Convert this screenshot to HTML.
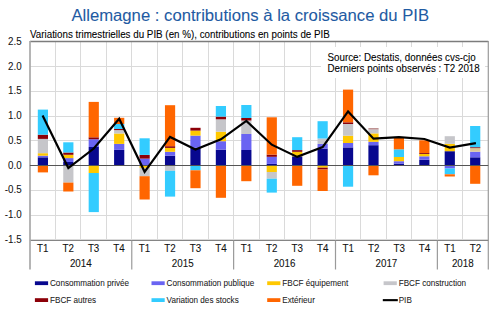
<!DOCTYPE html>
<html><head><meta charset="utf-8"><style>
html,body{margin:0;padding:0;background:#fff;}
body{width:500px;height:313px;overflow:hidden;}
svg{display:block;font-family:"Liberation Sans", sans-serif;}
</style></head><body>
<svg width="500" height="313" viewBox="0 0 500 313">
<rect width="500" height="313" fill="#fff"/>
<line x1="55.5" y1="41.7" x2="55.5" y2="240" stroke="#dadada" stroke-width="1"/>
<line x1="80.5" y1="41.7" x2="80.5" y2="240" stroke="#dadada" stroke-width="1"/>
<line x1="106.5" y1="41.7" x2="106.5" y2="240" stroke="#dadada" stroke-width="1"/>
<line x1="131.5" y1="41.7" x2="131.5" y2="240" stroke="#dadada" stroke-width="1"/>
<line x1="157.5" y1="41.7" x2="157.5" y2="240" stroke="#dadada" stroke-width="1"/>
<line x1="182.5" y1="41.7" x2="182.5" y2="240" stroke="#dadada" stroke-width="1"/>
<line x1="208.5" y1="41.7" x2="208.5" y2="240" stroke="#dadada" stroke-width="1"/>
<line x1="233.5" y1="41.7" x2="233.5" y2="240" stroke="#dadada" stroke-width="1"/>
<line x1="259.5" y1="41.7" x2="259.5" y2="240" stroke="#dadada" stroke-width="1"/>
<line x1="284.5" y1="41.7" x2="284.5" y2="240" stroke="#dadada" stroke-width="1"/>
<line x1="310.5" y1="41.7" x2="310.5" y2="240" stroke="#dadada" stroke-width="1"/>
<line x1="335.5" y1="41.7" x2="335.5" y2="240" stroke="#dadada" stroke-width="1"/>
<line x1="360.5" y1="41.7" x2="360.5" y2="240" stroke="#dadada" stroke-width="1"/>
<line x1="386.5" y1="41.7" x2="386.5" y2="240" stroke="#dadada" stroke-width="1"/>
<line x1="411.5" y1="41.7" x2="411.5" y2="240" stroke="#dadada" stroke-width="1"/>
<line x1="437.5" y1="41.7" x2="437.5" y2="240" stroke="#dadada" stroke-width="1"/>
<line x1="462.5" y1="41.7" x2="462.5" y2="240" stroke="#dadada" stroke-width="1"/>
<line x1="29.9" y1="41.5" x2="488.3" y2="41.5" stroke="#dadada" stroke-width="1"/>
<line x1="29.9" y1="66.5" x2="488.3" y2="66.5" stroke="#dadada" stroke-width="1"/>
<line x1="29.9" y1="91.5" x2="488.3" y2="91.5" stroke="#dadada" stroke-width="1"/>
<line x1="29.9" y1="116.5" x2="488.3" y2="116.5" stroke="#dadada" stroke-width="1"/>
<line x1="29.9" y1="140.5" x2="488.3" y2="140.5" stroke="#dadada" stroke-width="1"/>
<line x1="29.9" y1="190.5" x2="488.3" y2="190.5" stroke="#dadada" stroke-width="1"/>
<line x1="29.9" y1="215.5" x2="488.3" y2="215.5" stroke="#dadada" stroke-width="1"/>
<line x1="29.9" y1="239.5" x2="488.3" y2="239.5" stroke="#dadada" stroke-width="1"/>
<rect x="321" y="47" width="164" height="31" fill="#ffffff"/>
<rect x="37.8" y="157.3" width="10.2" height="8.3" fill="#08088f"/>
<rect x="37.8" y="155.7" width="10.2" height="1.6" fill="#6a64f2"/>
<rect x="37.8" y="153.2" width="10.2" height="2.5" fill="#ffc800"/>
<rect x="37.8" y="138.9" width="10.2" height="14.3" fill="#c6c6ca"/>
<rect x="37.8" y="134.7" width="10.2" height="4.2" fill="#8c0008"/>
<rect x="37.8" y="109.6" width="10.2" height="25.1" fill="#33ccff"/>
<rect x="37.8" y="165.6" width="10.2" height="6.8" fill="#ff6600"/>
<rect x="63.23" y="162" width="10.2" height="3.6" fill="#08088f"/>
<rect x="63.23" y="158.1" width="10.2" height="3.9" fill="#6a64f2"/>
<rect x="63.23" y="154.8" width="10.2" height="3.3" fill="#ffc800"/>
<rect x="63.23" y="152.5" width="10.2" height="2.3" fill="#8c0008"/>
<rect x="63.23" y="142.3" width="10.2" height="10.2" fill="#33ccff"/>
<rect x="63.23" y="165.6" width="10.2" height="17" fill="#c6c6ca"/>
<rect x="63.23" y="182.6" width="10.2" height="8.9" fill="#ff6600"/>
<rect x="88.66" y="147" width="10.2" height="18.6" fill="#08088f"/>
<rect x="88.66" y="139.2" width="10.2" height="7.8" fill="#6a64f2"/>
<rect x="88.66" y="137.3" width="10.2" height="1.9" fill="#8c0008"/>
<rect x="88.66" y="101.9" width="10.2" height="35.4" fill="#ff6600"/>
<rect x="88.66" y="165.6" width="10.2" height="7.4" fill="#ffc800"/>
<rect x="88.66" y="173" width="10.2" height="39.1" fill="#33ccff"/>
<rect x="114.09" y="149.9" width="10.2" height="15.7" fill="#08088f"/>
<rect x="114.09" y="143.9" width="10.2" height="6" fill="#6a64f2"/>
<rect x="114.09" y="133.5" width="10.2" height="10.4" fill="#ffc800"/>
<rect x="114.09" y="130.1" width="10.2" height="3.4" fill="#c6c6ca"/>
<rect x="114.09" y="129" width="10.2" height="1.1" fill="#8c0008"/>
<rect x="114.09" y="124" width="10.2" height="5" fill="#33ccff"/>
<rect x="114.09" y="117.8" width="10.2" height="6.2" fill="#ff6600"/>
<rect x="139.52" y="158.6" width="10.2" height="7" fill="#6a64f2"/>
<rect x="139.52" y="154.9" width="10.2" height="3.7" fill="#8c0008"/>
<rect x="139.52" y="138.3" width="10.2" height="16.6" fill="#33ccff"/>
<rect x="139.52" y="165.6" width="10.2" height="2.3" fill="#ffc800"/>
<rect x="139.52" y="167.9" width="10.2" height="8.3" fill="#c6c6ca"/>
<rect x="139.52" y="176.2" width="10.2" height="23.3" fill="#ff6600"/>
<rect x="164.95" y="155.7" width="10.2" height="9.9" fill="#08088f"/>
<rect x="164.95" y="151.8" width="10.2" height="3.9" fill="#6a64f2"/>
<rect x="164.95" y="147.9" width="10.2" height="3.9" fill="#ffc800"/>
<rect x="164.95" y="146.2" width="10.2" height="1.7" fill="#8c0008"/>
<rect x="164.95" y="105.2" width="10.2" height="41" fill="#ff6600"/>
<rect x="164.95" y="165.6" width="10.2" height="5.2" fill="#c6c6ca"/>
<rect x="164.95" y="170.8" width="10.2" height="25.8" fill="#33ccff"/>
<rect x="190.38" y="147.8" width="10.2" height="17.8" fill="#08088f"/>
<rect x="190.38" y="135.6" width="10.2" height="12.2" fill="#6a64f2"/>
<rect x="190.38" y="130.6" width="10.2" height="5" fill="#ffc800"/>
<rect x="190.38" y="127.8" width="10.2" height="2.8" fill="#8c0008"/>
<rect x="190.38" y="165.6" width="10.2" height="4.7" fill="#33ccff"/>
<rect x="190.38" y="170.3" width="10.2" height="17.9" fill="#ff6600"/>
<rect x="215.81" y="149.6" width="10.2" height="16" fill="#08088f"/>
<rect x="215.81" y="141.2" width="10.2" height="8.4" fill="#6a64f2"/>
<rect x="215.81" y="131.7" width="10.2" height="9.5" fill="#ffc800"/>
<rect x="215.81" y="119.3" width="10.2" height="12.4" fill="#c6c6ca"/>
<rect x="215.81" y="116.6" width="10.2" height="2.7" fill="#8c0008"/>
<rect x="215.81" y="106" width="10.2" height="10.6" fill="#33ccff"/>
<rect x="215.81" y="165.6" width="10.2" height="32.2" fill="#ff6600"/>
<rect x="241.24" y="150" width="10.2" height="15.6" fill="#08088f"/>
<rect x="241.24" y="134" width="10.2" height="16" fill="#6a64f2"/>
<rect x="241.24" y="120.5" width="10.2" height="13.5" fill="#c6c6ca"/>
<rect x="241.24" y="118" width="10.2" height="2.5" fill="#8c0008"/>
<rect x="241.24" y="105" width="10.2" height="13" fill="#33ccff"/>
<rect x="241.24" y="165.6" width="10.2" height="15.6" fill="#ff6600"/>
<rect x="266.67" y="163.9" width="10.2" height="1.7" fill="#08088f"/>
<rect x="266.67" y="156.8" width="10.2" height="7.1" fill="#6a64f2"/>
<rect x="266.67" y="154.6" width="10.2" height="2.2" fill="#8c0008"/>
<rect x="266.67" y="117.3" width="10.2" height="37.3" fill="#ff6600"/>
<rect x="266.67" y="165.6" width="10.2" height="6.4" fill="#ffc800"/>
<rect x="266.67" y="172" width="10.2" height="6.7" fill="#c6c6ca"/>
<rect x="266.67" y="178.7" width="10.2" height="13.9" fill="#33ccff"/>
<rect x="292.1" y="156.3" width="10.2" height="9.3" fill="#08088f"/>
<rect x="292.1" y="151.8" width="10.2" height="4.5" fill="#ffc800"/>
<rect x="292.1" y="150.1" width="10.2" height="1.7" fill="#8c0008"/>
<rect x="292.1" y="137.2" width="10.2" height="12.9" fill="#33ccff"/>
<rect x="292.1" y="165.6" width="10.2" height="20.2" fill="#ff6600"/>
<rect x="317.53" y="148.6" width="10.2" height="17" fill="#08088f"/>
<rect x="317.53" y="143.9" width="10.2" height="4.7" fill="#6a64f2"/>
<rect x="317.53" y="138.5" width="10.2" height="5.4" fill="#c6c6ca"/>
<rect x="317.53" y="121.2" width="10.2" height="17.3" fill="#33ccff"/>
<rect x="317.53" y="165.6" width="10.2" height="2.1" fill="#ffc800"/>
<rect x="317.53" y="167.7" width="10.2" height="1.8" fill="#8c0008"/>
<rect x="317.53" y="169.5" width="10.2" height="21.5" fill="#ff6600"/>
<rect x="342.96" y="147.4" width="10.2" height="18.2" fill="#08088f"/>
<rect x="342.96" y="143" width="10.2" height="4.4" fill="#6a64f2"/>
<rect x="342.96" y="135.7" width="10.2" height="7.3" fill="#ffc800"/>
<rect x="342.96" y="124" width="10.2" height="11.7" fill="#c6c6ca"/>
<rect x="342.96" y="122.3" width="10.2" height="1.7" fill="#8c0008"/>
<rect x="342.96" y="89.6" width="10.2" height="32.7" fill="#ff6600"/>
<rect x="342.96" y="165.6" width="10.2" height="21.1" fill="#33ccff"/>
<rect x="368.39" y="145.2" width="10.2" height="20.4" fill="#08088f"/>
<rect x="368.39" y="141.8" width="10.2" height="3.4" fill="#6a64f2"/>
<rect x="368.39" y="133.4" width="10.2" height="8.4" fill="#ffc800"/>
<rect x="368.39" y="129.5" width="10.2" height="3.9" fill="#c6c6ca"/>
<rect x="368.39" y="128.1" width="10.2" height="1.4" fill="#b88888"/>
<rect x="368.39" y="165.6" width="10.2" height="9.7" fill="#ff6600"/>
<rect x="393.82" y="163.6" width="10.2" height="2" fill="#08088f"/>
<rect x="393.82" y="161.2" width="10.2" height="2.4" fill="#6a64f2"/>
<rect x="393.82" y="157" width="10.2" height="4.2" fill="#ffc800"/>
<rect x="393.82" y="149.3" width="10.2" height="7.7" fill="#33ccff"/>
<rect x="393.82" y="137.9" width="10.2" height="11.4" fill="#ff6600"/>
<rect x="419.25" y="159.8" width="10.2" height="5.8" fill="#08088f"/>
<rect x="419.25" y="156.3" width="10.2" height="3.5" fill="#6a64f2"/>
<rect x="419.25" y="153.9" width="10.2" height="2.4" fill="#ffc800"/>
<rect x="419.25" y="153" width="10.2" height="0.9" fill="#8c0008"/>
<rect x="419.25" y="140.3" width="10.2" height="12.7" fill="#ff6600"/>
<rect x="444.68" y="151.2" width="10.2" height="14.4" fill="#08088f"/>
<rect x="444.68" y="143.8" width="10.2" height="7.4" fill="#ffc800"/>
<rect x="444.68" y="136.2" width="10.2" height="7.6" fill="#c6c6ca"/>
<rect x="444.68" y="165.6" width="10.2" height="2.9" fill="#6a64f2"/>
<rect x="444.68" y="168.5" width="10.2" height="5.8" fill="#33ccff"/>
<rect x="444.68" y="174.3" width="10.2" height="2.2" fill="#ff6600"/>
<rect x="470.11" y="157.3" width="10.2" height="8.3" fill="#08088f"/>
<rect x="470.11" y="151.7" width="10.2" height="5.6" fill="#6a64f2"/>
<rect x="470.11" y="148.1" width="10.2" height="3.6" fill="#dcc89a"/>
<rect x="470.11" y="147.2" width="10.2" height="0.9" fill="#8c0008"/>
<rect x="470.11" y="126" width="10.2" height="21.2" fill="#33ccff"/>
<rect x="470.11" y="165.6" width="10.2" height="18.2" fill="#ff6600"/>
<line x1="29.9" y1="41.5" x2="488.3" y2="41.5" stroke="#7c7c7c" stroke-width="1.3"/>
<line x1="488.3" y1="41" x2="488.3" y2="269.5" stroke="#9a9a9a" stroke-width="1.2"/>
<line x1="29.9" y1="240.5" x2="488.3" y2="240.5" stroke="#858585" stroke-width="1.1"/>
<line x1="30" y1="41" x2="30" y2="269.5" stroke="#a8a8a8" stroke-width="1.7"/>
<line x1="131.77" y1="240.5" x2="131.77" y2="269.5" stroke="#9a9a9a" stroke-width="1.2"/>
<line x1="233.63" y1="240.5" x2="233.63" y2="269.5" stroke="#9a9a9a" stroke-width="1.2"/>
<line x1="335.5" y1="240.5" x2="335.5" y2="269.5" stroke="#9a9a9a" stroke-width="1.2"/>
<line x1="437.37" y1="240.5" x2="437.37" y2="269.5" stroke="#9a9a9a" stroke-width="1.2"/>
<line x1="29.9" y1="165.5" x2="488.3" y2="165.5" stroke="#555555" stroke-width="1"/>
<polyline points="42.59,115.57 68.33,168 93.76,148.5 119.19,118.7 144.62,171.8 170.05,136.9 195.48,149.6 220.91,139.3 246.34,120.9 271.77,144.7 297.2,156.9 322.63,147.1 348.06,111.4 373.49,138.7 398.92,137.2 424.35,139 449.78,147.6 475.9,143.08" fill="none" stroke="#000000" stroke-width="2.2" stroke-linejoin="miter"/>
<rect x="34.9" y="281.3" width="13.2" height="3.8" fill="#08088f"/>
<rect x="151.5" y="281.3" width="13.2" height="3.8" fill="#6a64f2"/>
<rect x="267.2" y="281.3" width="13.2" height="3.8" fill="#ffc800"/>
<rect x="383.6" y="281.3" width="13.2" height="3.8" fill="#c6c6ca"/>
<rect x="34.9" y="298.2" width="13.2" height="3.8" fill="#8c0008"/>
<rect x="151.5" y="298.2" width="13.2" height="3.8" fill="#33ccff"/>
<rect x="267.2" y="298.2" width="13.2" height="3.8" fill="#ff6600"/>
<rect x="382.8" y="299.1" width="15" height="2.1" fill="#000000"/>
<text x="71.4" y="20.8" font-size="16.68" text-anchor="start" fill="#1f5ba3" stroke="#1f5ba3" stroke-width="0.08">Allemagne : contributions à la croissance du PIB</text>
<text x="30" y="38.2" font-size="9.8" text-anchor="start" fill="#000" stroke="#000" stroke-width="0.08" transform="matrix(1 0 0 1.1 0 -3.82)">Variations trimestrielles du PIB (en %), contributions en points de PIB</text>
<text x="327.5" y="61.3" font-size="9.8" text-anchor="start" fill="#000" stroke="#000" stroke-width="0.08" transform="matrix(1 0 0 1.1 0 -6.13)">Source: Destatis, données cvs-cjo</text>
<text x="327.5" y="72.1" font-size="9.8" text-anchor="start" fill="#000" stroke="#000" stroke-width="0.08" transform="matrix(1 0 0 1.1 0 -7.21)">Derniers points observés : T2 2018</text>
<text x="21.7" y="44.75" font-size="9.8" text-anchor="end" fill="#111" stroke="#111" stroke-width="0.05" transform="matrix(1 0 0 1.1 0 -4.48)">2.5</text>
<text x="21.7" y="69.54" font-size="9.8" text-anchor="end" fill="#111" stroke="#111" stroke-width="0.05" transform="matrix(1 0 0 1.1 0 -6.95)">2.0</text>
<text x="21.7" y="94.33" font-size="9.8" text-anchor="end" fill="#111" stroke="#111" stroke-width="0.05" transform="matrix(1 0 0 1.1 0 -9.43)">1.5</text>
<text x="21.7" y="119.12" font-size="9.8" text-anchor="end" fill="#111" stroke="#111" stroke-width="0.05" transform="matrix(1 0 0 1.1 0 -11.91)">1.0</text>
<text x="21.7" y="143.91" font-size="9.8" text-anchor="end" fill="#111" stroke="#111" stroke-width="0.05" transform="matrix(1 0 0 1.1 0 -14.39)">0.5</text>
<text x="21.7" y="168.7" font-size="9.8" text-anchor="end" fill="#111" stroke="#111" stroke-width="0.05" transform="matrix(1 0 0 1.1 0 -16.87)">0.0</text>
<text x="21.7" y="193.49" font-size="9.8" text-anchor="end" fill="#111" stroke="#111" stroke-width="0.05" transform="matrix(1 0 0 1.1 0 -19.35)">-0.5</text>
<text x="21.7" y="218.28" font-size="9.8" text-anchor="end" fill="#111" stroke="#111" stroke-width="0.05" transform="matrix(1 0 0 1.1 0 -21.83)">-1.0</text>
<text x="21.7" y="243.07" font-size="9.8" text-anchor="end" fill="#111" stroke="#111" stroke-width="0.05" transform="matrix(1 0 0 1.1 0 -24.31)">-1.5</text>
<text x="42.7" y="251.8" font-size="9.8" text-anchor="middle" fill="#111" stroke="#111" stroke-width="0.08" transform="matrix(1 0 0 1.1 0 -25.18)">T1</text>
<text x="68.16" y="251.8" font-size="9.8" text-anchor="middle" fill="#111" stroke="#111" stroke-width="0.08" transform="matrix(1 0 0 1.1 0 -25.18)">T2</text>
<text x="93.62" y="251.8" font-size="9.8" text-anchor="middle" fill="#111" stroke="#111" stroke-width="0.08" transform="matrix(1 0 0 1.1 0 -25.18)">T3</text>
<text x="119.08" y="251.8" font-size="9.8" text-anchor="middle" fill="#111" stroke="#111" stroke-width="0.08" transform="matrix(1 0 0 1.1 0 -25.18)">T4</text>
<text x="144.54" y="251.8" font-size="9.8" text-anchor="middle" fill="#111" stroke="#111" stroke-width="0.08" transform="matrix(1 0 0 1.1 0 -25.18)">T1</text>
<text x="170" y="251.8" font-size="9.8" text-anchor="middle" fill="#111" stroke="#111" stroke-width="0.08" transform="matrix(1 0 0 1.1 0 -25.18)">T2</text>
<text x="195.46" y="251.8" font-size="9.8" text-anchor="middle" fill="#111" stroke="#111" stroke-width="0.08" transform="matrix(1 0 0 1.1 0 -25.18)">T3</text>
<text x="220.92" y="251.8" font-size="9.8" text-anchor="middle" fill="#111" stroke="#111" stroke-width="0.08" transform="matrix(1 0 0 1.1 0 -25.18)">T4</text>
<text x="246.38" y="251.8" font-size="9.8" text-anchor="middle" fill="#111" stroke="#111" stroke-width="0.08" transform="matrix(1 0 0 1.1 0 -25.18)">T1</text>
<text x="271.84" y="251.8" font-size="9.8" text-anchor="middle" fill="#111" stroke="#111" stroke-width="0.08" transform="matrix(1 0 0 1.1 0 -25.18)">T2</text>
<text x="297.3" y="251.8" font-size="9.8" text-anchor="middle" fill="#111" stroke="#111" stroke-width="0.08" transform="matrix(1 0 0 1.1 0 -25.18)">T3</text>
<text x="322.76" y="251.8" font-size="9.8" text-anchor="middle" fill="#111" stroke="#111" stroke-width="0.08" transform="matrix(1 0 0 1.1 0 -25.18)">T4</text>
<text x="348.22" y="251.8" font-size="9.8" text-anchor="middle" fill="#111" stroke="#111" stroke-width="0.08" transform="matrix(1 0 0 1.1 0 -25.18)">T1</text>
<text x="373.68" y="251.8" font-size="9.8" text-anchor="middle" fill="#111" stroke="#111" stroke-width="0.08" transform="matrix(1 0 0 1.1 0 -25.18)">T2</text>
<text x="399.14" y="251.8" font-size="9.8" text-anchor="middle" fill="#111" stroke="#111" stroke-width="0.08" transform="matrix(1 0 0 1.1 0 -25.18)">T3</text>
<text x="424.6" y="251.8" font-size="9.8" text-anchor="middle" fill="#111" stroke="#111" stroke-width="0.08" transform="matrix(1 0 0 1.1 0 -25.18)">T4</text>
<text x="450.06" y="251.8" font-size="9.8" text-anchor="middle" fill="#111" stroke="#111" stroke-width="0.08" transform="matrix(1 0 0 1.1 0 -25.18)">T1</text>
<text x="475.52" y="251.8" font-size="9.8" text-anchor="middle" fill="#111" stroke="#111" stroke-width="0.08" transform="matrix(1 0 0 1.1 0 -25.18)">T2</text>
<text x="80.83" y="266.7" font-size="9.8" text-anchor="middle" fill="#111" stroke="#111" stroke-width="0.08" transform="matrix(1 0 0 1.1 0 -26.67)">2014</text>
<text x="182.7" y="266.7" font-size="9.8" text-anchor="middle" fill="#111" stroke="#111" stroke-width="0.08" transform="matrix(1 0 0 1.1 0 -26.67)">2015</text>
<text x="284.57" y="266.7" font-size="9.8" text-anchor="middle" fill="#111" stroke="#111" stroke-width="0.08" transform="matrix(1 0 0 1.1 0 -26.67)">2016</text>
<text x="386.43" y="266.7" font-size="9.8" text-anchor="middle" fill="#111" stroke="#111" stroke-width="0.08" transform="matrix(1 0 0 1.1 0 -26.67)">2017</text>
<text x="462.83" y="266.7" font-size="9.8" text-anchor="middle" fill="#111" stroke="#111" stroke-width="0.08" transform="matrix(1 0 0 1.1 0 -26.67)">2018</text>
<text x="50" y="285.6" font-size="8.15" text-anchor="start" fill="#1a1a1a" stroke="#1a1a1a" stroke-width="0.05" transform="matrix(1 0 0 1.1 0 -28.56)">Consommation privée</text>
<text x="166.6" y="285.6" font-size="8.15" text-anchor="start" fill="#1a1a1a" stroke="#1a1a1a" stroke-width="0.05" transform="matrix(1 0 0 1.1 0 -28.56)">Consommation publique</text>
<text x="282.3" y="285.6" font-size="8.15" text-anchor="start" fill="#1a1a1a" stroke="#1a1a1a" stroke-width="0.05" transform="matrix(1 0 0 1.1 0 -28.56)">FBCF équipement</text>
<text x="398.7" y="285.6" font-size="8.15" text-anchor="start" fill="#1a1a1a" stroke="#1a1a1a" stroke-width="0.05" transform="matrix(1 0 0 1.1 0 -28.56)">FBCF construction</text>
<text x="50" y="302.9" font-size="8.15" text-anchor="start" fill="#1a1a1a" stroke="#1a1a1a" stroke-width="0.05" transform="matrix(1 0 0 1.1 0 -30.29)">FBCF autres</text>
<text x="166.6" y="302.9" font-size="8.15" text-anchor="start" fill="#1a1a1a" stroke="#1a1a1a" stroke-width="0.05" transform="matrix(1 0 0 1.1 0 -30.29)">Variation des stocks</text>
<text x="282.3" y="302.9" font-size="8.15" text-anchor="start" fill="#1a1a1a" stroke="#1a1a1a" stroke-width="0.05" transform="matrix(1 0 0 1.1 0 -30.29)">Extérieur</text>
<text x="398.7" y="302.9" font-size="8.15" text-anchor="start" fill="#1a1a1a" stroke="#1a1a1a" stroke-width="0.05" transform="matrix(1 0 0 1.1 0 -30.29)">PIB</text>
</svg>
</body></html>
